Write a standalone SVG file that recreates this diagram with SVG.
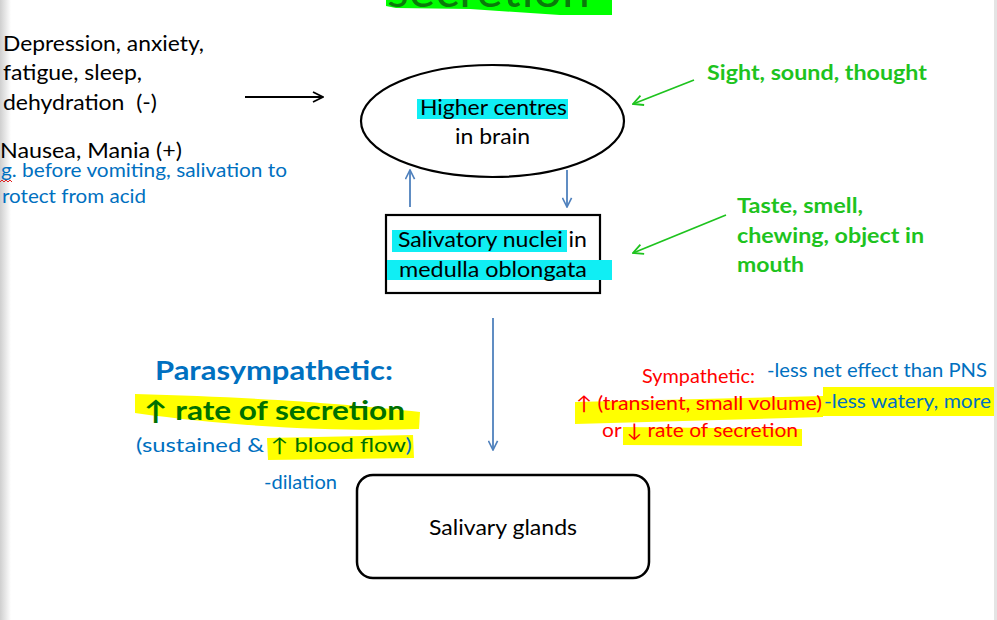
<svg xmlns="http://www.w3.org/2000/svg" width="997" height="620" viewBox="0 0 997 620">
<defs>
<linearGradient id="leftShade" x1="0" y1="0" x2="1" y2="0">
<stop offset="0" stop-color="#cfcfcf"/>
<stop offset="1" stop-color="#ffffff"/>
</linearGradient>
<marker id="hBlack" viewBox="0 0 12 12" refX="11" refY="6" markerWidth="12" markerHeight="12" orient="auto" markerUnits="userSpaceOnUse">
<path d="M1,1 L11,6 L1,11" fill="none" stroke="#000" stroke-width="1.8"/>
</marker>
<marker id="hBlue" viewBox="0 0 12 12" refX="11" refY="6" markerWidth="11" markerHeight="11" orient="auto" markerUnits="userSpaceOnUse">
<path d="M1,1 L11,6 L1,11" fill="none" stroke="#4f81bd" stroke-width="1.8"/>
</marker>
<marker id="hGreen" viewBox="0 0 12 12" refX="11" refY="6" markerWidth="12" markerHeight="12" orient="auto" markerUnits="userSpaceOnUse">
<path d="M1,1 L11,6 L1,11" fill="none" stroke="#1ec31e" stroke-width="1.8"/>
</marker>
</defs>
<style>
text { font-family: Lato, "Liberation Sans", sans-serif; white-space: pre; }
.blk { fill: #000; font-size: 21px; }
.blu { fill: #0070c0; font-size: 19px; }
.red { fill: #ff0000; font-size: 19px; }
.grn { fill: #1ec31e; font-size: 21px; font-weight: bold; }
.dg { fill: #007000; }
.yl { fill: #ffff00; }
.cy { fill: #10eef4; }
.conn { fill: none; stroke-width: 1.8; }
</style>
<rect x="0" y="0" width="997" height="620" fill="#fff"/>
<rect x="0" y="0" width="11" height="620" fill="url(#leftShade)"/>
<rect x="994" y="0" width="3" height="620" fill="#e4e4e4"/>

<g id="title">
<path d="M386,0 L612,0 L612,15 L560,15 L470,9 L396,8 L386,6 Z" fill="#00ff00"/>
<text x="387" y="7" font-size="48" fill="#0a7a0a" textLength="203" lengthAdjust="spacingAndGlyphs">secretion</text>
</g>

<g id="inhibitors">
<text class="blk" x="3" y="51" textLength="201" lengthAdjust="spacingAndGlyphs">Depression, anxiety,</text>
<text class="blk" x="3" y="80" textLength="139" lengthAdjust="spacingAndGlyphs">fatigue, sleep,</text>
<text class="blk" x="3" y="110" textLength="154" lengthAdjust="spacingAndGlyphs">dehydration  (-)</text>
</g>

<g id="stimulants">
<text class="blk" x="0" y="158" textLength="182" lengthAdjust="spacingAndGlyphs">Nausea, Mania (+)</text>
<text class="blu" x="1" y="177" font-size="18" textLength="286" lengthAdjust="spacingAndGlyphs">g. before vomiting, salivation to</text>
<path d="M0,182 l2,-2 l2,2 l2,-2 l2,2 l2,-2 l2,2" fill="none" stroke="#e02020" stroke-width="1"/>
<text class="blu" x="2" y="203" font-size="18" textLength="144" lengthAdjust="spacingAndGlyphs">rotect from acid</text>
</g>

<g id="higher-centres">
<ellipse cx="492.5" cy="121" rx="131.5" ry="56" fill="#fff" stroke="#000" stroke-width="2.2"/>
<rect class="cy" x="417" y="99" width="151" height="20"/>
<text class="blk" x="420" y="115" textLength="147" lengthAdjust="spacingAndGlyphs">Higher centres</text>
<text class="blk" x="455" y="144" textLength="75" lengthAdjust="spacingAndGlyphs">in brain</text>
</g>

<g id="salivatory-nuclei">
<rect x="386" y="215" width="214" height="78" fill="#fff" stroke="#000" stroke-width="2.2"/>
<rect class="cy" x="392" y="230" width="175" height="22"/>
<rect class="cy" x="387" y="260" width="225" height="20"/>
<text class="blk" x="398" y="247" textLength="189" lengthAdjust="spacingAndGlyphs">Salivatory nuclei in</text>
<text class="blk" x="399" y="277" textLength="188" lengthAdjust="spacingAndGlyphs">medulla oblongata</text>
</g>

<g id="sensory-higher">
<text class="grn" x="707" y="80" textLength="220" lengthAdjust="spacingAndGlyphs">Sight, sound, thought</text>
</g>

<g id="sensory-local">
<text class="grn" x="737" y="213" textLength="126" lengthAdjust="spacingAndGlyphs">Taste, smell,</text>
<text class="grn" x="737" y="243" textLength="187" lengthAdjust="spacingAndGlyphs">chewing, object in</text>
<text class="grn" x="737" y="272" textLength="67" lengthAdjust="spacingAndGlyphs">mouth</text>
</g>

<g id="parasympathetic">
<path class="yl" d="M135,394 C250,397 350,404 420,412 L419,429 C350,431 250,429 135,413 Z"/>
<path class="yl" d="M267,438 L413,435 L414,458 L268,460 Z"/>
<text x="155" y="380" font-size="26" font-weight="bold" fill="#0070c0" textLength="238" lengthAdjust="spacingAndGlyphs">Parasympathetic:</text>
<text class="dg" x="144" y="420" font-size="26" font-weight="bold" textLength="261" lengthAdjust="spacingAndGlyphs">↑ rate of secretion</text>
<text class="blu" x="136" y="452" font-size="20" textLength="276" lengthAdjust="spacingAndGlyphs">(sustained &amp; <tspan class="dg">↑ blood flow</tspan>)</text>
<text class="blu" x="264" y="489" textLength="73" lengthAdjust="spacingAndGlyphs">-dilation</text>
</g>

<g id="sympathetic">
<path class="yl" d="M575,402 L823,396 L823,417 L575,424 Z"/>
<rect class="yl" x="823" y="387" width="171" height="29"/>
<path class="yl" d="M623,427 L802,429 L802,446 L623,445 Z"/>
<text class="red" x="642" y="383" textLength="113" lengthAdjust="spacingAndGlyphs">Sympathetic:</text>
<text class="blu" x="767" y="377" textLength="220" lengthAdjust="spacingAndGlyphs">-less net effect than PNS</text>
<text class="red" x="576" y="410" textLength="246" lengthAdjust="spacingAndGlyphs">↑ (transient, small volume)</text>
<text class="blu" x="824" y="408" textLength="167" lengthAdjust="spacingAndGlyphs">-less watery, more</text>
<text class="red" x="602" y="437" textLength="196" lengthAdjust="spacingAndGlyphs">or ↓ rate of secretion</text>
</g>

<g id="salivary-glands">
<rect x="357" y="475" width="292" height="103" rx="16" fill="#fff" stroke="#000" stroke-width="2.5"/>
<text class="blk" x="429" y="535" textLength="148" lengthAdjust="spacingAndGlyphs">Salivary glands</text>
</g>

<g id="connectors">
<line class="conn" x1="245" y1="97" x2="323" y2="97" stroke="#000" marker-end="url(#hBlack)"/>
<line class="conn" x1="410" y1="207" x2="410" y2="170" stroke="#4f81bd" marker-end="url(#hBlue)"/>
<line class="conn" x1="567" y1="170" x2="567" y2="207" stroke="#4f81bd" marker-end="url(#hBlue)"/>
<line class="conn" x1="493" y1="318" x2="493" y2="450" stroke="#4f81bd" marker-end="url(#hBlue)"/>
<line class="conn" x1="694" y1="80" x2="633" y2="104" stroke="#1ec31e" marker-end="url(#hGreen)"/>
<line class="conn" x1="726" y1="215" x2="633" y2="253" stroke="#1ec31e" marker-end="url(#hGreen)"/>
</g>
</svg>
